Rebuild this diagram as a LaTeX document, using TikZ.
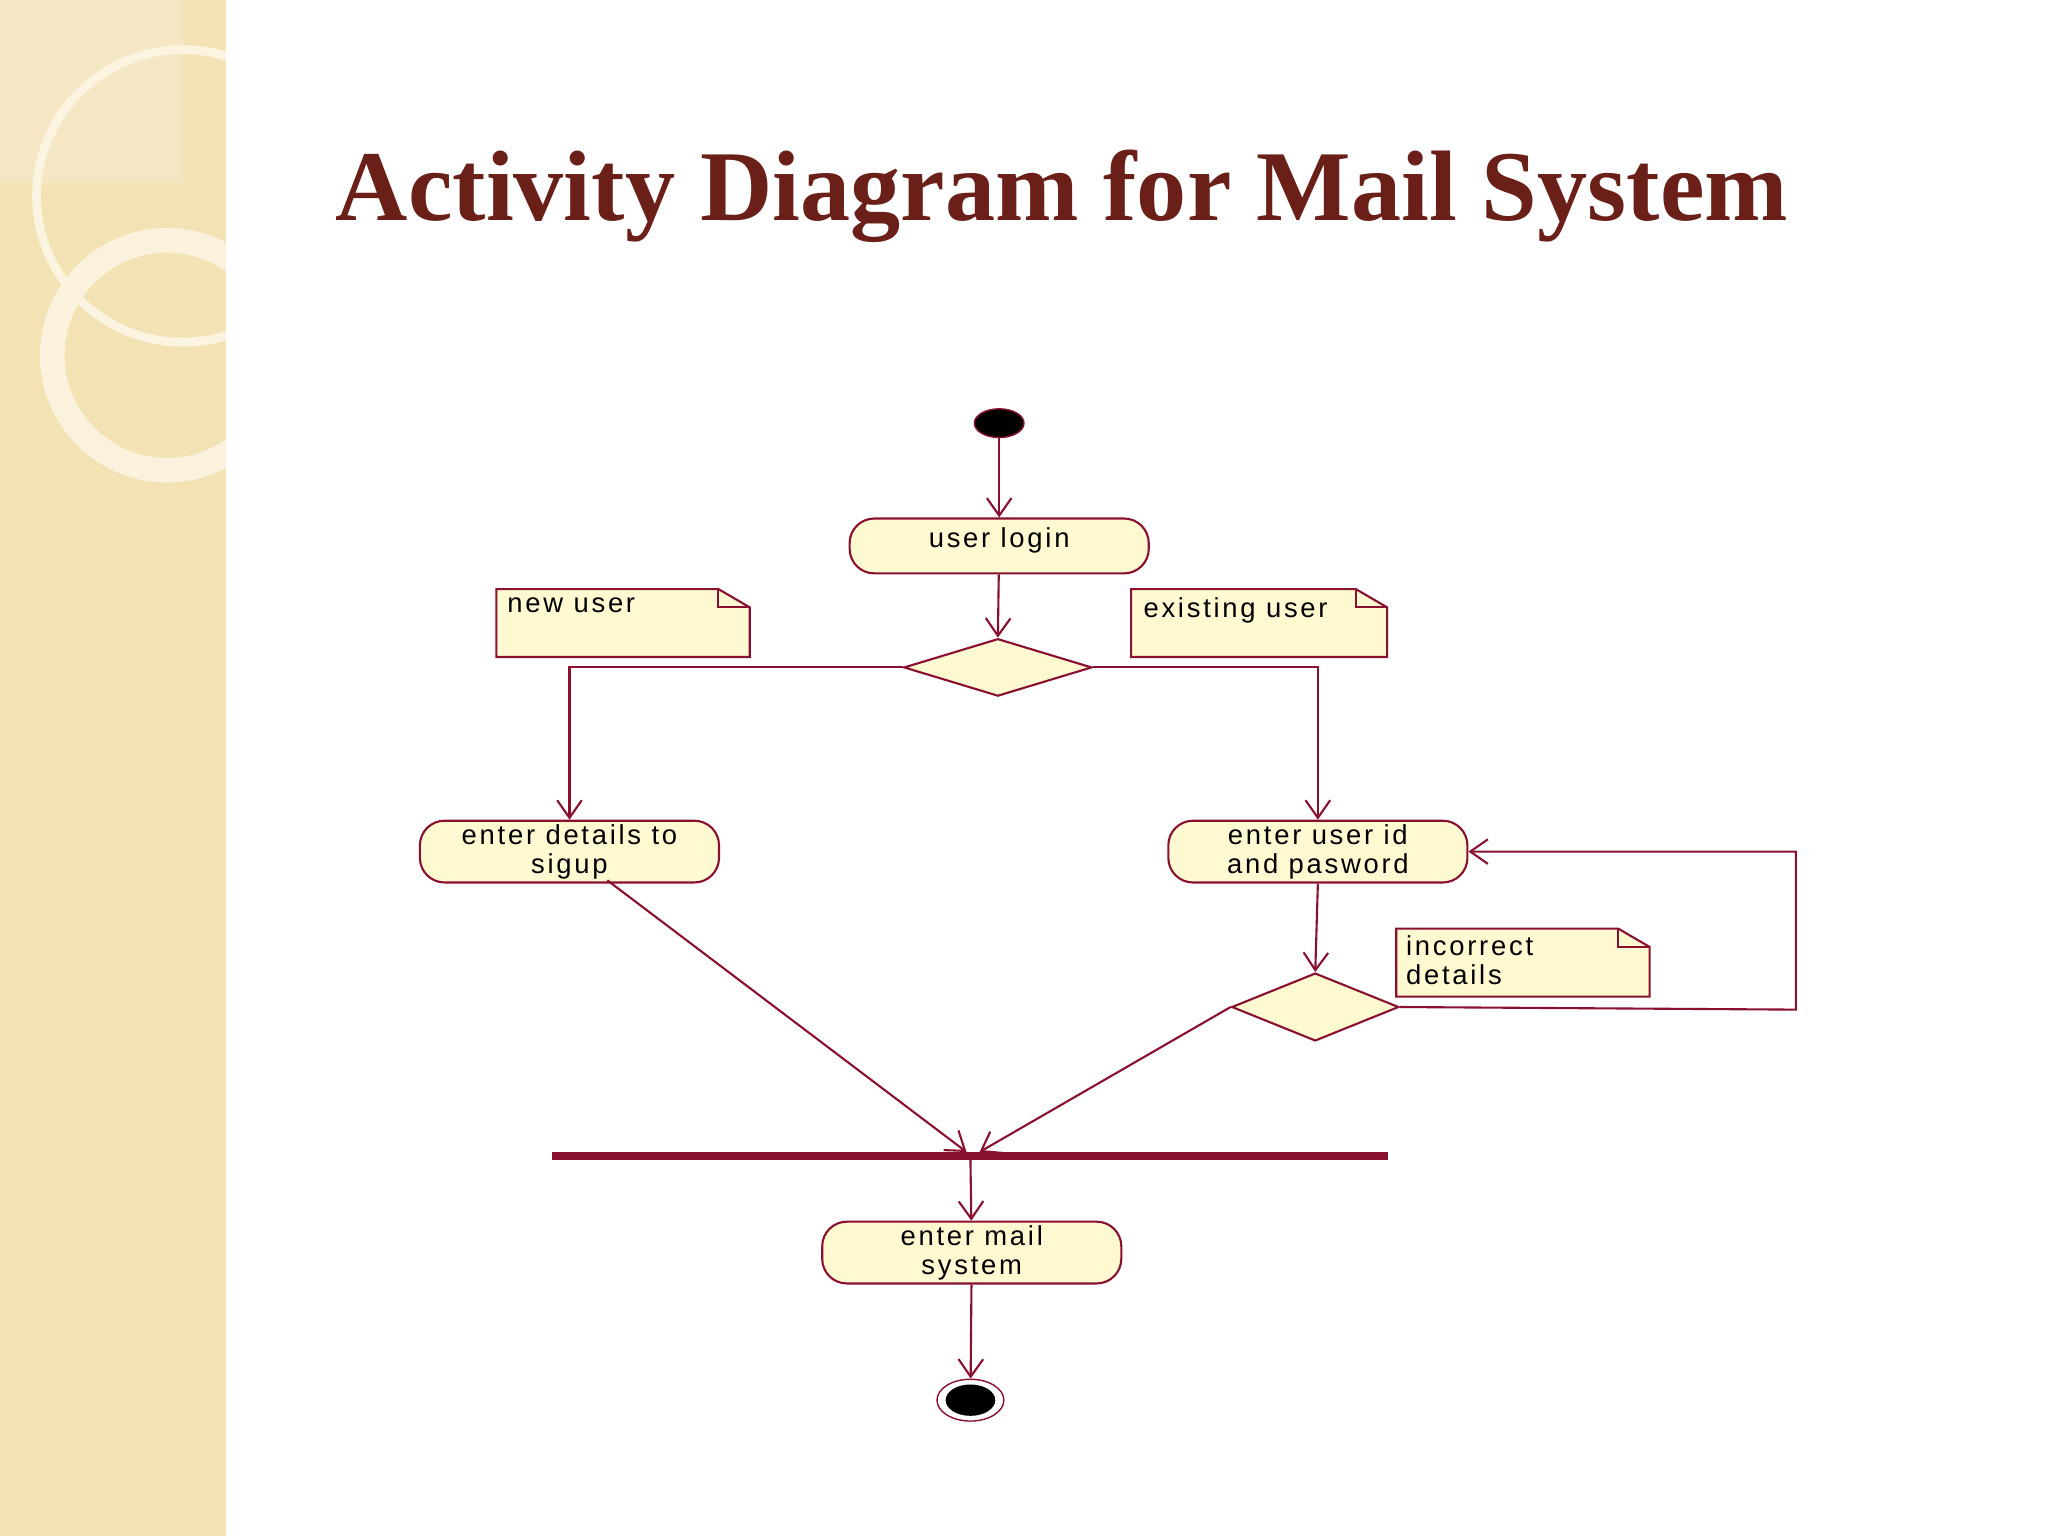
\documentclass[tikz,border=0pt]{standalone}
\usepackage{fontspec}
\setmainfont{Liberation Serif}
\newfontfamily\diag{Liberation Sans}[LetterSpace=10]
\usetikzlibrary{shapes.geometric,arrows.meta,patterns}
\definecolor{strip}{HTML}{F3E2B4}
\definecolor{ttl}{HTML}{6A2018}
\definecolor{ln}{HTML}{8A1030}
\definecolor{fillc}{HTML}{FFF9D2}
\begin{document}
\begin{tikzpicture}[x=0.01306cm,y=-0.01306cm,
 act/.style={draw=ln,fill=fillc,rounded corners=7pt,minimum width=229*0.01306cm,minimum height=42*0.01306cm,font=\diag\fontsize{7.8}{8.3}\selectfont,align=center,inner sep=1pt,line width=0.6pt},
 note/.style={draw=ln,fill=fillc,line width=0.6pt},
 dec/.style={draw=ln,fill=fillc,diamond,line width=0.6pt,inner sep=0pt},
 con/.style={draw=ln,line width=0.6pt,-{Straight Barb[length=5pt,width=7pt]}},
 ntext/.style={font=\diag\fontsize{7.8}{8.3}\selectfont,anchor=north west,align=left,inner sep=0pt}]
\useasboundingbox (0,0) rectangle (1568,1176);
\fill[white] (0,0) rectangle (1568,1176);
% strip
\fill[strip] (0,0) rectangle (173,1176);
\begin{scope}
\clip (0,0) rectangle (173,1176);
\fill[white,opacity=0.2] (0,0) rectangle (140,140);
\draw[white!60!strip,line width=2.5pt] (140,150) circle (112);
\draw[white!55!strip,line width=7pt] (128,272) circle (88);
\end{scope}
\node[font=\bfseries\fontsize{28.5}{31}\selectfont,text=ttl] (title) at (813,150) {Activity Diagram for Mail System};
% nodes
\node[ellipse,fill=black,draw=ln,minimum width=38*0.01306cm,minimum height=22*0.01306cm,inner sep=0pt] (start) at (765,324) {};
\node[act] (login) at (765,418) {\raisebox{5pt}{user login}};
\node[dec,minimum width=144*0.01306cm,minimum height=44*0.01306cm] (d1) at (764,511) {};
\node[act] (sign) at (436,652) {enter details to\\sigup};
\node[act] (uid) at (1009,652) {enter user id\\and pasword};
\node[dec,minimum width=128*0.01306cm,minimum height=52*0.01306cm] (d2) at (1007,771) {};
\node[act,minimum height=40*0.01306cm] (mail) at (744,959) {enter mail\\system};
\node[circle,draw=ln,fill=white,minimum size=32*0.01306cm,inner sep=0pt,xscale=1.6] (end) at (743,1072) {};
\fill[black] (743,1072) ellipse (19 and 12);
\fill[ln] (423,882) rectangle (1063,888);
\coordinate (barL) at (740,882);
\coordinate (barR) at (750,882);
\coordinate (barC) at (743,888);
\coordinate (signout) at (465,674);
% notes
\foreach \x/\y/\w/\h/\n in {380/451/194/52/n1,866/451/196/52/n2,1069/711/194/52/n3}{
 \draw[note] (\x,\y) -- (\x+\w-24,\y) -- (\x+\w,\y+14) -- (\x+\w,\y+\h) -- (\x,\y+\h) -- cycle;
 \draw[ln,line width=0.6pt] (\x+\w-24,\y) -- (\x+\w-24,\y+14) -- (\x+\w,\y+14);
}
\node[ntext] (t1) at (388,457) {new user};
\node[ntext] (t2) at (875,457) {existing user};
\node[ntext] (t3) at (1076,716) {incorrect\\details};
% connectors
\draw[con] (start) -- (login);
\draw[con] (login) -- (d1.north);
\draw[con] (d1.west) -| (sign.north);
\draw[con] (d1.east) -| (uid.north);
\draw[con] (uid.south) -- (d2.north);
\draw[con] (d2.east) -- (1375,773) |- (uid.east);
\draw[con] (signout) -- (barL);
\draw[con] (d2.west) -- (barR);
\draw[con] (barC) -- (mail);
\draw[con] (mail) -- (end);
\end{tikzpicture}
\end{document}
